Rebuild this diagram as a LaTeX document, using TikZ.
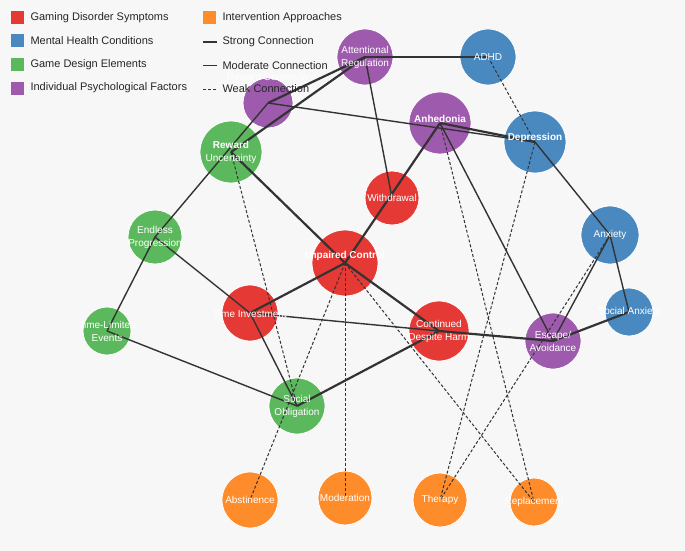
\documentclass[tikz,border=0pt]{standalone}
\usepackage{fontspec}
\setmainfont{Liberation Sans}
\definecolor{symcol}{HTML}{E53935}
\definecolor{mhcol}{HTML}{4A89C0}
\definecolor{gdcol}{HTML}{5CB85C}
\definecolor{pscol}{HTML}{9E5BAD}
\definecolor{ivcol}{HTML}{FF8C2A}
\definecolor{edgecol}{HTML}{333333}
\tikzset{
	dot/.style={circle,draw=white,line width=0.8pt,inner sep=0pt,minimum size=#1},
	lbl/.style={text=white,align=center,font=\fontsize{10}{13}\selectfont},
	strongc/.style={edgecol,line width=2.2pt},
	modc/.style={edgecol,line width=1.4pt},
	weakc/.style={edgecol,line width=1pt,dash pattern=on 3pt off 2pt},
	legtxt/.style={anchor=west,font=\fontsize{11}{13}\selectfont,text=black!85}
}
\begin{document}
\begin{tikzpicture}[x=1pt,y=-1pt]
	\useasboundingbox[fill=black!3] (0,0) rectangle (685,551);
	
	%circles
	\node[dot=56,fill=pscol] (att) at (365,57) {};
	\node[dot=56,fill=mhcol] (adhd) at (488,57) {};
	\node[dot=50,fill=pscol] (rsens) at (268,103) {};
	\node[dot=62,fill=pscol] (anh) at (440,123) {};
	\node[dot=62,fill=mhcol] (dep) at (535,142) {};
	\node[dot=62,fill=gdcol] (runc) at (231,152) {};
	\node[dot=54,fill=symcol] (wd) at (392,198) {};
	\node[dot=54,fill=gdcol] (endp) at (155,237) {};
	\node[dot=58,fill=mhcol] (anx) at (610,235) {};
	\node[dot=66,fill=symcol] (ic) at (345,263) {};
	\node[dot=56,fill=symcol] (ti) at (250,313) {};
	\node[dot=48,fill=mhcol] (sanx) at (629,312) {};
	\node[dot=48,fill=gdcol] (tle) at (107,331) {};
	\node[dot=60,fill=symcol] (cdh) at (439,331) {};
	\node[dot=56,fill=pscol] (esc) at (553,341) {};
	\node[dot=56,fill=gdcol] (so) at (297,406) {};
	\node[dot=56,fill=ivcol] (abs) at (250,500) {};
	\node[dot=54,fill=ivcol] (mod) at (345,498) {};
	\node[dot=54,fill=ivcol] (ther) at (440,500) {};
	\node[dot=48,fill=ivcol] (rep) at (534,502) {};
	
	%connections
	\draw[strongc] (att.center) -- (adhd.center);
	\draw[strongc] (att.center) -- (rsens.center);
	\draw[strongc] (att.center) -- (runc.center);
	\draw[modc] (att.center) -- (wd.center);
	\draw[modc] (rsens.center) -- (endp.center);
	\draw[modc] (rsens.center) -- (dep.center);
	\draw[strongc] (anh.center) -- (dep.center);
	\draw[strongc] (anh.center) -- (ic.center);
	\draw[modc] (anh.center) -- (esc.center);
	\draw[modc] (dep.center) -- (anx.center);
	\draw[strongc] (runc.center) -- (ic.center);
	\draw[modc] (endp.center) -- (tle.center);
	\draw[modc] (endp.center) -- (ti.center);
	\draw[strongc] (ic.center) -- (ti.center);
	\draw[strongc] (ic.center) -- (cdh.center);
	\draw[modc] (ti.center) -- (cdh.center);
	\draw[modc] (ti.center) -- (so.center);
	\draw[strongc] (cdh.center) -- (esc.center);
	\draw[strongc] (cdh.center) -- (so.center);
	\draw[modc] (tle.center) -- (so.center);
	\draw[modc] (esc.center) -- (anx.center);
	\draw[strongc] (esc.center) -- (sanx.center);
	\draw[modc] (anx.center) -- (sanx.center);
	
	\draw[weakc] (adhd.center) -- (dep.center);
	\draw[weakc] (dep.center) -- (ther.center);
	\draw[weakc] (anx.center) -- (ther.center);
	\draw[weakc] (anh.center) -- (rep.center);
	\draw[weakc] (ic.center) -- (rep.center);
	\draw[weakc] (ic.center) -- (mod.center);
	\draw[weakc] (ic.center) -- (abs.center);
	\draw[weakc] (runc.center) -- (so.center);
	
	%labels
	\node[lbl] at (att) {Attentional\\Regulation};
	\node[lbl] at (adhd) {ADHD};
	\node[lbl] at (rsens.north) {Reward Sensitivity};
	\node[lbl,font=\fontsize{10}{13}\bfseries] at (anh) [yshift=4] {Anhedonia};
	\node[lbl,font=\fontsize{10}{13}\bfseries] at (dep) [yshift=4] {Depression};
	\node[lbl] at (runc) {\textbf{Reward}\\Uncertainty};
	\node[lbl] at (wd) {Withdrawal};
	\node[lbl] at (endp) {Endless\\Progression};
	\node[lbl] at (anx) {Anxiety};
	\node[lbl,font=\fontsize{10}{13}\bfseries] at (ic) [yshift=7] {Impaired Control};
	\node[lbl] at (ti) [yshift=-1] {Time Investment};
	\node[lbl] at (sanx) {Social Anxiety};
	\node[lbl] at (tle) {Time-Limited\\Events};
	\node[lbl] at (cdh) {Continued\\Despite Harm};
	\node[lbl] at (esc) {Escape/\\Avoidance};
	\node[lbl] at (so) {Social\\Obligation};
	\node[lbl] at (abs) {Abstinence};
	\node[lbl] at (mod) {Moderation};
	\node[lbl] at (ther) {Therapy};
	\node[lbl] at (rep) {Replacement};
	
	%legend
	\foreach \c/\t [count=\i] in {symcol/Gaming Disorder Symptoms,mhcol/Mental Health Conditions,gdcol/Game Design Elements,pscol/Individual Psychological Factors}{
		\fill[\c] (11,{17+23.5*(\i-1)-6}) rectangle +(13,13);
		\node[legtxt] at (27,{17+23.5*(\i-1)+0.5}) {\t};
	}
	\fill[ivcol] (203,11) rectangle +(13,13);
	\node[legtxt] at (219,17.5) {Intervention Approaches};
	\draw[strongc] (203,42) -- (217,42);
	\node[legtxt] at (219,42) {Strong Connection};
	\draw[modc,line width=1.2pt] (203,65.5) -- (217,65.5);
	\node[legtxt] at (219,65.5) {Moderate Connection};
	\draw[weakc] (203,89) -- (217,89);
	\node[legtxt] at (219,89) {Weak Connection};
\end{tikzpicture}
\end{document}
